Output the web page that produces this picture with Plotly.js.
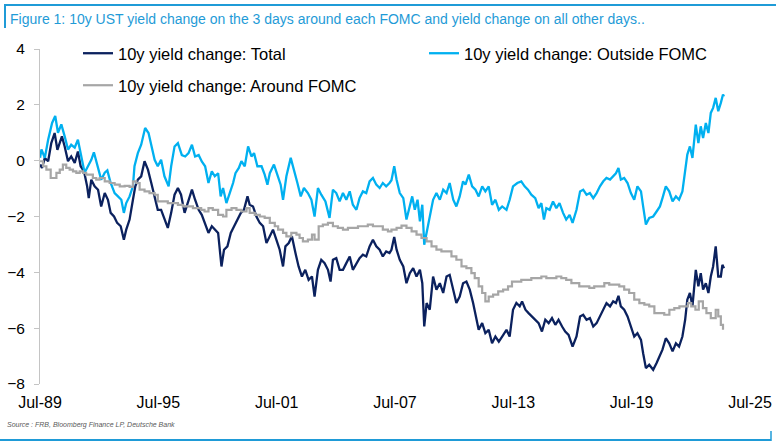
<!DOCTYPE html>
<html>
<head>
<meta charset="utf-8">
<script src="https://cdn.plot.ly/plotly-3.0.1.min.js"></script>
<style>
  html, body { margin: 0; padding: 0; background: #fff; }
  #chart { width: 780px; height: 447px; }
</style>
</head>
<body>
<div id="chart"></div>
<script>
// Cumulative change in the 10y UST yield (pp) since Jul-1989, sampled as decimal years.

const totalYears = [
  1989.50,1989.60,1989.74,1989.91,1990.07,1990.24,1990.38,1990.50,1990.61,1990.75,
  1990.92,1991.08,1991.26,1991.42,1991.56,1991.73,1991.89,1991.97,1992.10,1992.27,
  1992.44,1992.60,1992.78,1992.94,1993.08,1993.25,1993.41,1993.59,1993.75,1993.87,
  1994.04,1994.21,1994.33,1994.46,1994.63,1994.80,1994.97,1995.14,1995.31,1995.47,
  1995.64,1995.81,1995.98,1996.15,1996.32,1996.49,1996.65,1996.83,1996.99,1997.20,
  1997.36,1997.54,1997.70,1997.87,1998.04,1998.21,
  1998.36,1998.53,1998.70,1998.83,1999.00,1999.17,1999.34,1999.51,1999.68,1999.84,
  2000.02,2000.13,2000.30,2000.47,2000.64,2000.81,2000.98,2001.15,2001.31,2001.48,
  2001.65,2001.82,2001.94,2002.11,2002.27,2002.45,2002.61,2002.78,2002.95,2003.12,
  2003.29,2003.42,2003.59,2003.76,2003.93,2004.10,2004.23,2004.35,2004.52,2004.69,
  2004.86,2005.03,2005.20,2005.36,2005.54,2005.70,2005.87,2006.04,2006.21,2006.38,
  2006.55,2006.72,2006.88,2007.05,2007.22,
  2007.32,2007.46,2007.58,2007.74,2007.92,2008.08,2008.25,2008.42,2008.59,2008.76,
  2008.88,2008.98,2009.10,2009.26,2009.43,2009.60,2009.77,2009.94,2010.11,2010.27,
  2010.45,2010.61,2010.78,2010.95,2011.12,2011.29,2011.46,2011.63,2011.74,2011.92,
  2012.08,2012.25,2012.42,2012.59,2012.76,2012.93,2013.15,2013.31,2013.48,2013.65,
  2013.82,2013.94,2014.11,2014.27,2014.44,2014.61,2014.78,2014.95,2015.12,2015.29,
  2015.46,2015.63,2015.79,2015.97,2016.13,2016.30,
  2016.50,2016.70,2016.88,2017.04,2017.21,2017.38,2017.55,2017.72,2017.89,2018.06,
  2018.22,2018.40,2018.56,2018.70,2018.83,2018.95,2019.12,2019.29,2019.46,2019.63,
  2019.79,2019.97,2020.08,2020.22,2020.39,2020.59,2020.76,2020.93,2021.06,2021.23,
  2021.40,2021.57,2021.74,2021.90,2022.07,2022.21,2022.32,2022.45,2022.58,2022.75,
  2022.88,2023.00,2023.12,2023.26,2023.39,2023.51,2023.63,2023.76,2023.89,2024.02,
  2024.10,2024.18
];
const totalValues = [
  -0.14,-0.26,0.10,-0.02,0.63,0.99,0.39,0.63,0.87,0.51,
  -0.02,0.15,-0.08,0.33,-0.20,-0.38,-0.92,-1.34,-0.68,-0.92,
  -1.04,-1.64,-1.16,-1.40,-1.87,-2.00,-2.23,-2.35,-2.83,-2.47,
  -2.11,-1.40,-0.92,-0.68,-0.56,-0.02,-0.32,-0.80,-1.28,-1.76,
  -1.76,-2.11,-2.41,-1.87,-1.22,-0.98,-1.22,-1.87,-1.52,-1.04,
  -1.40,-1.76,-1.94,-2.23,-2.59,-2.35,
  -2.45,-2.59,-3.79,-3.19,-3.07,-2.59,-2.35,-2.11,-1.87,-1.76,
  -1.28,-1.58,-1.64,-2.00,-2.23,-2.35,-2.95,-2.71,-2.47,-2.83,
  -3.19,-3.79,-3.07,-2.95,-2.71,-3.31,-3.79,-4.15,-3.91,-4.27,
  -4.15,-4.87,-3.91,-3.55,-3.67,-3.91,-4.33,-3.55,-3.49,-3.91,
  -3.91,-3.67,-3.43,-3.91,-3.67,-3.49,-3.37,-3.43,-3.07,-2.83,
  -3.07,-3.19,-3.43,-3.25,-3.31,
  -3.19,-2.73,-3.19,-3.55,-3.79,-4.39,-4.03,-3.85,-4.15,-3.91,
  -4.39,-5.94,-5.10,-5.34,-4.15,-4.62,-4.39,-4.74,-4.15,-4.09,
  -4.62,-5.10,-4.87,-4.39,-4.33,-4.62,-5.10,-5.70,-6.06,-5.82,
  -6.18,-6.06,-6.54,-6.30,-6.48,-6.30,-6.06,-6.30,-5.34,-5.10,
  -5.22,-5.04,-5.34,-5.46,-5.58,-5.70,-5.82,-6.12,-5.70,-5.82,
  -5.64,-5.88,-5.70,-5.94,-6.12,-6.24,
  -6.66,-6.30,-5.58,-5.52,-5.70,-5.64,-5.94,-5.82,-5.58,-5.34,
  -5.10,-5.22,-5.04,-5.10,-4.84,-5.22,-5.34,-5.58,-5.94,-6.30,
  -6.18,-6.42,-6.90,-7.43,-7.31,-7.49,-7.25,-7.01,-6.77,-6.36,
  -6.54,-6.83,-6.54,-6.66,-6.30,-5.70,-4.98,-4.74,-5.22,-3.91,
  -4.50,-4.03,-4.62,-4.39,-4.74,-4.15,-3.79,-3.07,-4.15,-4.15,
  -3.73,-3.85
];

const outsideYears = [
  1989.50,1989.57,1989.74,1989.91,1990.11,1990.27,1990.41,1990.58,1990.75,1990.92,
  1991.08,1991.26,1991.42,1991.59,1991.76,1991.93,1992.10,1992.23,1992.40,1992.60,
  1992.78,1992.91,1993.08,1993.28,1993.45,1993.62,1993.75,1993.87,1994.04,1994.21,
  1994.29,1994.46,1994.63,1994.83,1995.00,1995.14,1995.31,1995.47,1995.64,1995.81,
  1996.02,1996.15,1996.32,1996.49,1996.69,1996.86,1997.03,1997.20,1997.36,1997.54,
  1997.70,1997.87,1998.04,1998.21,
  1998.36,1998.53,1998.66,1998.78,1998.95,1999.12,1999.29,1999.41,1999.58,1999.71,
  1999.88,2000.05,2000.22,2000.35,2000.52,2000.73,2000.89,2001.03,2001.15,2001.36,
  2001.54,2001.70,2001.82,2001.99,2002.21,2002.38,2002.55,2002.72,2002.88,2003.08,
  2003.26,2003.42,2003.59,2003.76,2003.97,2004.18,2004.35,2004.52,2004.69,2004.86,
  2005.03,2005.20,2005.36,2005.54,2005.70,2005.87,2006.04,2006.21,2006.38,2006.55,
  2006.72,2006.88,2007.05,2007.22,
  2007.32,2007.46,2007.58,2007.74,2007.92,2008.08,2008.25,2008.37,2008.50,2008.64,
  2008.76,2008.88,2008.98,2009.10,2009.26,2009.43,2009.60,2009.77,2009.94,2010.11,
  2010.27,2010.45,2010.61,2010.78,2010.95,2011.07,2011.24,2011.41,2011.58,2011.74,
  2011.92,2012.08,2012.25,2012.42,2012.59,2012.76,2012.93,2013.15,2013.31,2013.48,
  2013.70,2013.90,2014.07,2014.24,2014.41,2014.61,2014.78,2014.92,2015.05,2015.17,
  2015.34,2015.51,2015.68,2015.84,2016.02,2016.18,2016.35,
  2016.50,2016.70,2016.88,2017.04,2017.21,2017.38,2017.55,2017.72,2017.89,2018.06,
  2018.22,2018.40,2018.56,2018.70,2018.83,2018.95,2019.12,2019.29,2019.46,2019.63,
  2019.79,2019.97,2020.08,2020.22,2020.39,2020.59,2020.76,2020.93,2021.06,2021.23,
  2021.40,2021.57,2021.74,2021.90,2022.07,2022.21,2022.32,2022.45,2022.58,2022.75,
  2022.88,2023.00,2023.12,2023.26,2023.39,2023.51,2023.63,2023.76,2023.89,2024.02,
  2024.13,2024.18
];
const outsideValues = [
  0.10,0.40,0.10,0.75,1.35,1.60,1.00,1.30,0.87,0.40,
  0.57,0.47,0.75,0.20,-0.43,-0.20,0.03,0.30,-0.20,-0.68,
  -0.43,-0.35,-0.80,-1.16,-1.28,-1.40,-1.87,-1.52,-1.28,-0.92,
  -0.20,0.27,0.57,1.17,0.99,0.51,0.03,-0.20,0.03,-0.56,
  -0.92,-0.20,0.51,0.63,0.20,0.15,0.27,0.57,0.15,0.20,
  -0.03,-0.20,-0.80,-0.38,
  -0.56,-0.45,-1.28,-0.98,-1.52,-1.16,-0.80,-0.45,-0.26,-0.02,
  -0.20,0.51,0.15,0.27,-0.20,-0.20,-0.50,-0.86,-0.45,-0.14,
  -0.56,-0.86,-1.40,-0.56,0.10,-0.32,-0.80,-1.28,-0.98,-1.16,
  -1.40,-2.00,-0.98,-1.22,-1.46,-2.05,-1.04,-1.16,-1.46,-1.16,
  -1.40,-1.10,-1.58,-1.76,-1.34,-1.10,-1.16,-0.74,-0.62,-0.86,
  -0.98,-0.80,-0.92,-0.80,
  -0.70,-0.20,-0.68,-1.16,-1.34,-2.11,-1.58,-1.28,-1.76,-1.40,
  -2.17,-1.58,-3.01,-2.59,-2.00,-1.40,-1.16,-1.40,-1.04,-1.16,
  -0.80,-1.40,-1.64,-1.28,-0.74,-0.86,-0.50,-0.92,-1.04,-1.28,
  -0.92,-1.10,-0.92,-1.58,-1.40,-1.76,-1.64,-1.76,-1.40,-0.92,
  -0.80,-0.74,-0.92,-1.04,-1.22,-1.34,-1.70,-1.52,-2.11,-1.70,
  -1.76,-1.46,-1.70,-1.52,-1.87,-2.11,-1.94,
  -2.23,-1.76,-1.10,-1.04,-1.22,-1.16,-1.34,-1.16,-0.92,-0.74,
  -0.62,-0.68,-0.56,-0.45,-0.26,-0.68,-0.62,-0.80,-1.16,-1.40,
  -0.92,-1.10,-1.64,-2.29,-2.05,-2.00,-1.82,-1.64,-1.34,-0.92,
  -1.10,-1.46,-1.28,-1.40,-1.10,-0.45,0.22,0.51,0.10,1.29,
  0.63,1.23,0.81,1.35,0.99,1.71,1.89,2.25,1.77,2.07,
  2.37,2.30
];

const aroundYears = [
  1989.50,1989.65,1989.82,1990.04,1990.21,1990.33,1990.50,1990.66,1990.83,1991.00,
  1991.17,1991.34,1991.51,1991.68,1991.84,1992.02,1992.18,1992.35,1992.52,1992.78,
  1993.03,1993.28,1993.54,1993.79,1994.04,1994.21,1994.38,1994.55,1994.80,1995.05,
  1995.31,1995.47,1995.73,1995.98,1996.23,1996.49,1996.74,1996.99,1997.25,1997.50,
  1997.67,1997.84,1998.04,1998.26,
  1998.53,1998.78,1998.95,1999.21,1999.46,1999.71,1999.97,2000.13,2000.39,2000.64,
  2000.89,2001.15,2001.40,2001.57,2001.82,2001.99,2002.24,2002.50,2002.66,2002.83,
  2003.08,2003.29,2003.42,2003.63,2003.84,2004.10,2004.35,2004.60,2004.86,2005.11,
  2005.36,2005.62,2005.87,2006.12,2006.38,2006.63,2006.88,2007.14,
  2007.32,2007.58,2007.83,2008.08,2008.34,2008.59,2008.84,2009.10,2009.35,2009.60,
  2009.85,2010.11,2010.36,2010.61,2010.87,2011.12,2011.37,2011.54,2011.74,2011.92,
  2012.08,2012.25,2012.47,2012.73,2012.98,2013.23,2013.43,2013.65,2013.90,2014.16,
  2014.41,2014.66,2014.92,2015.17,2015.42,2015.68,2015.93,2016.18,2016.44,
  2016.59,2016.84,2017.09,2017.35,2017.60,2017.85,2018.11,2018.36,2018.61,2018.87,
  2019.12,2019.37,2019.63,2019.89,2020.14,2020.39,2020.65,2020.90,2021.15,2021.41,
  2021.66,2021.92,2022.18,2022.35,2022.52,2022.73,2022.90,2023.11,2023.29,2023.51,
  2023.68,2023.76,2023.89,2024.02,2024.13
];
const aroundValues = [
  -0.02,-0.20,-0.32,-0.62,-0.62,-0.44,-0.32,-0.14,-0.26,-0.32,
  -0.38,-0.44,-0.38,-0.44,-0.50,-0.50,-0.62,-0.68,-0.62,-0.74,
  -0.80,-0.86,-0.92,-0.90,-0.94,-0.74,-0.80,-1.04,-1.10,-1.16,
  -1.22,-1.46,-1.46,-1.52,-1.52,-1.58,-1.64,-1.64,-1.70,-1.70,
  -1.76,-1.82,-1.70,-1.76,
  -1.94,-2.00,-1.76,-1.70,-1.76,-1.82,-1.70,-1.87,-1.94,-2.00,
  -2.05,-2.23,-2.35,-2.47,-2.59,-2.71,-2.59,-2.65,-2.77,-2.89,
  -2.83,-2.65,-2.83,-2.35,-2.29,-2.23,-2.35,-2.41,-2.47,-2.41,
  -2.41,-2.35,-2.35,-2.29,-2.35,-2.35,-2.47,-2.53,
  -2.47,-2.41,-2.33,-2.41,-2.53,-2.65,-2.77,-2.89,-3.07,-3.19,
  -3.25,-3.25,-3.43,-3.55,-3.79,-3.85,-4.03,-4.21,-4.50,-4.74,
  -5.04,-4.87,-4.80,-4.68,-4.62,-4.50,-4.33,-4.33,-4.27,-4.27,
  -4.21,-4.21,-4.15,-4.21,-4.21,-4.15,-4.21,-4.27,-4.39,
  -4.39,-4.50,-4.50,-4.56,-4.50,-4.50,-4.39,-4.44,-4.44,-4.50,
  -4.62,-4.74,-4.98,-5.10,-5.16,-5.22,-5.46,-5.46,-5.52,-5.34,
  -5.28,-5.22,-5.22,-5.10,-5.22,-5.34,-5.04,-5.28,-5.46,-5.64,
  -5.64,-5.34,-5.58,-5.88,-6.06
];

const seriesNames = [
  '10y yield change: Total',
  '10y yield change: Outside FOMC',
  '10y yield change: Around FOMC'
];
const tickDates  = ['1989-07-01','1995-07-01','2001-07-01','2007-07-01','2013-07-01','2019-07-01','2025-07-01'];
const tickLabels = ['Jul-89','Jul-95','Jul-01','Jul-07','Jul-13','Jul-19','Jul-25'];
const yTicks = [-8, -6, -4, -2, 0, 2, 4];

const titleText  = 'Figure 1: 10y UST yield change on the 3 days around each FOMC and yield change on all other days..';
const sourceText = 'Source : FRB, Bloomberg Finance LP, Deutsche Bank';

// decimal year -> ISO date string
function toDate(t) {
  const y = Math.floor(t);
  const a = Date.UTC(y, 0, 1), b = Date.UTC(y + 1, 0, 1);
  return new Date(a + (t - y) * (b - a)).toISOString().slice(0, 10);
}

const FONT = 'Liberation Sans, Arial, sans-serif';
const BLUE_FRAME = '#1f9bd7';
const xRange = ['1989-07-01', '2025-07-01'];

// plot area in pixels: left 40, right 750, top 49, bottom 384
const W = 780, H = 447, L = 40, R = 30, T = 49, B = 63;
const PW = W - L - R, PH = H - T - B;
const px = v => (v - L) / PW;          // container x -> paper x
const py = v => (H - B - v) / PH;      // container y -> paper y

const traces = [
  {
    x: totalYears.map(toDate), y: totalValues, name: seriesNames[0],
    type: 'scatter', mode: 'lines', legend: 'legend',
    line: { color: '#0b215e', width: 2.3 }
  },
  {
    x: outsideYears.map(toDate), y: outsideValues, name: seriesNames[1],
    type: 'scatter', mode: 'lines', legend: 'legend2',
    line: { color: '#00b0f0', width: 2.3 }
  },
  {
    x: aroundYears.map(toDate), y: aroundValues, name: seriesNames[2],
    type: 'scatter', mode: 'lines', legend: 'legend3',
    line: { color: '#a6a6a6', width: 2.2, shape: 'hv' }
  }
];

const legendBase = {
  orientation: 'h', xanchor: 'left', yanchor: 'top',
  bgcolor: 'rgba(0,0,0,0)', font: { family: FONT, size: 16.5, color: '#000' }
};

const layout = {
  width: W, height: H,
  margin: { l: L, r: R, t: T, b: B },
  paper_bgcolor: '#fff', plot_bgcolor: '#fff',
  font: { family: FONT, size: 15, color: '#000' },
  title: {
    text: titleText,
    font: { family: FONT, size: 14, color: BLUE_FRAME },
    xref: 'container', yref: 'container',
    x: 10 / W, xanchor: 'left', y: 1 - 19 / H, yanchor: 'middle'
  },
  xaxis: {
    type: 'date', range: xRange,
    tickmode: 'array', tickvals: tickDates, ticktext: tickLabels,
    ticks: '', showline: false, showgrid: false, zeroline: false,
    tickfont: { family: FONT, size: 16, color: '#000' },
    ticklabelstandoff: 7
  },
  // zero line carrying the date tick marks
  xaxis2: {
    type: 'date', range: xRange, overlaying: 'x', anchor: 'free',
    position: 8 / 12, side: 'bottom',
    tickmode: 'array', tickvals: tickDates,
    ticks: 'outside', ticklen: 4, tickcolor: '#c4c4c4',
    showline: true, linecolor: '#c4c4c4', linewidth: 1,
    showticklabels: false, showgrid: false, zeroline: false
  },
  yaxis: {
    range: [-8, 4], tickmode: 'array', tickvals: yTicks,
    ticks: 'outside', ticklen: 5, tickcolor: '#c4c4c4',
    showline: true, linecolor: '#c4c4c4', linewidth: 1,
    showgrid: false, zeroline: false,
    tickfont: { family: FONT, size: 15.5, color: '#000' },
    ticklabelstandoff: 6
  },
  showlegend: true,
  legend:  Object.assign({}, legendBase, { x: px(78),  y: py(36) }),
  legend2: Object.assign({}, legendBase, { x: px(424), y: py(36) }),
  legend3: Object.assign({}, legendBase, { x: px(78),  y: py(68) }),
  annotations: [
    {
      text: '<i>' + sourceText + '</i>', showarrow: false,
      xref: 'paper', yref: 'paper', x: px(5), xanchor: 'left',
      y: py(425), yanchor: 'middle',
      font: { family: FONT, size: 7, color: '#595959' }
    }
  ],
  shapes: [
    { type: 'line', xref: 'paper', yref: 'paper', x0: px(5), x1: px(776), y0: py(5), y1: py(5),
      line: { color: BLUE_FRAME, width: 2 } },
    { type: 'line', xref: 'paper', yref: 'paper', x0: px(5), x1: px(5), y0: py(4), y1: py(28),
      line: { color: BLUE_FRAME, width: 2 } },
    { type: 'line', xref: 'paper', yref: 'paper', x0: px(0), x1: px(771), y0: py(440), y1: py(440),
      line: { color: BLUE_FRAME, width: 2 } },
    { type: 'line', xref: 'paper', yref: 'paper', x0: px(771), x1: px(771), y0: py(441), y1: py(431),
      line: { color: BLUE_FRAME, width: 1.5 } }
  ]
};

Plotly.newPlot('chart', traces, layout, { displayModeBar: false, staticPlot: true });
</script>
</body>
</html>
